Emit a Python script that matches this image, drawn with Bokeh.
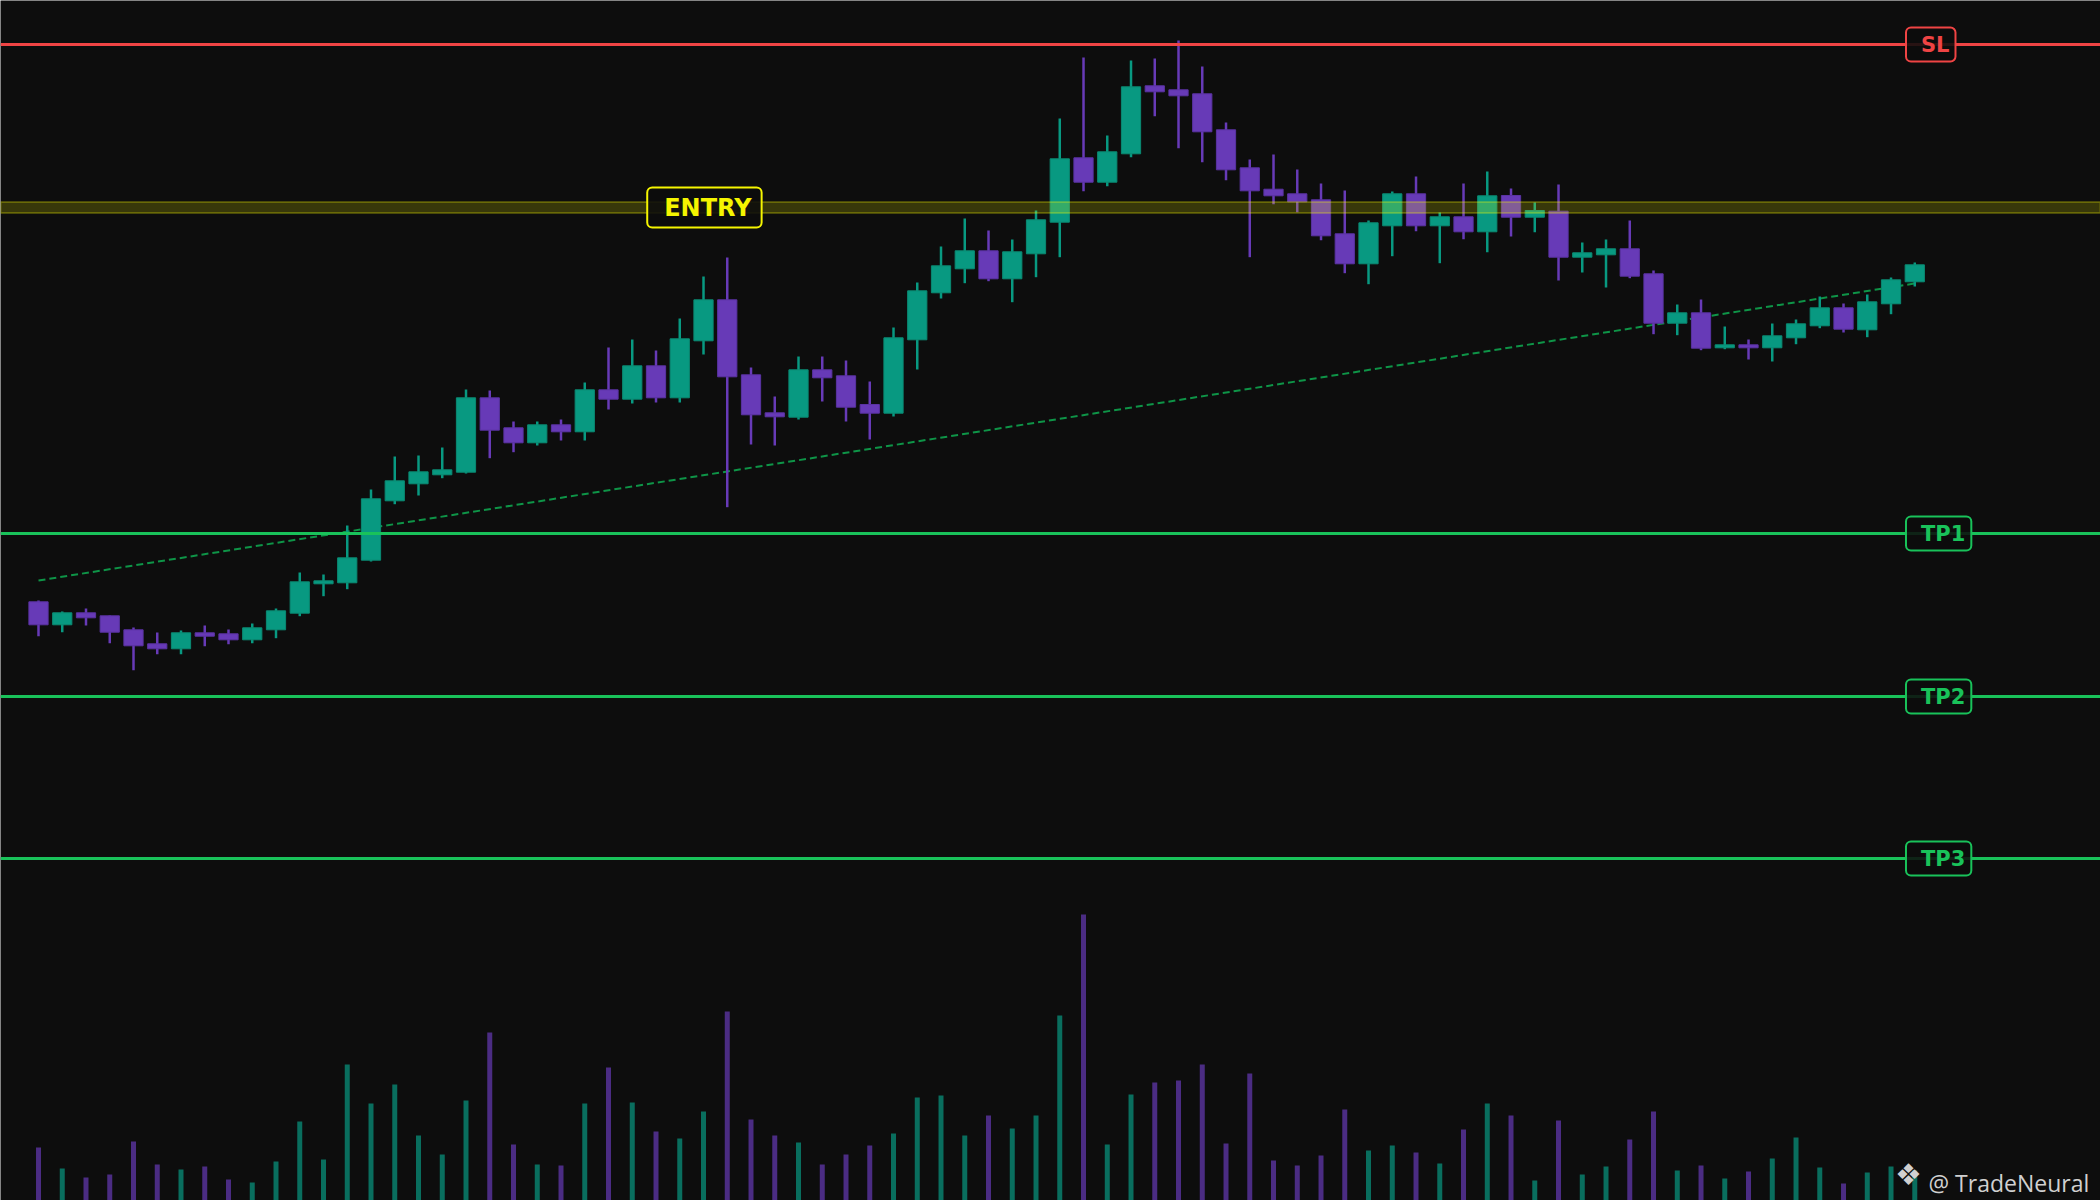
from bokeh.plotting import figure
from bokeh.models import Range1d, Span, Label, BoxAnnotation, ColumnDataSource
from bokeh.embed import file_html
from bokeh.resources import INLINE

# ---- data ----
opens = [210.57, 208.27, 209.47, 209.17, 207.77, 206.37, 205.87, 207.47, 207.37, 206.77,
         207.77, 209.43, 212.37, 212.47, 214.73, 220.67, 222.37, 223.27, 223.53, 230.97,
         227.97, 226.47, 228.27, 227.57, 231.77, 230.83, 234.17, 230.97, 236.67, 240.77,
         233.27, 229.47, 229.03, 233.77, 233.17, 230.30, 229.43, 236.77, 241.47, 243.87,
         245.67, 242.87, 245.37, 248.53, 254.97, 252.53, 255.37, 262.17, 261.77, 261.37,
         257.77, 253.97, 251.83, 251.37, 250.77, 247.37, 244.37, 248.17, 251.37, 248.17,
         249.07, 247.57, 251.20, 249.03, 249.63, 245.03, 245.27, 245.87, 243.37, 238.43,
         239.47, 235.97, 236.27, 235.97, 236.97, 238.17, 239.97, 237.77, 240.37, 242.57]
highs = [210.70, 209.60, 209.90, 209.20, 208.00, 207.50, 207.70, 208.20, 207.80, 208.40,
         209.90, 213.50, 213.30, 218.20, 221.80, 225.10, 225.20, 226.00, 231.80, 231.70,
         228.60, 228.60, 228.80, 232.50, 236.00, 236.80, 235.70, 238.90, 243.10, 245.00,
         234.00, 231.10, 235.10, 235.10, 234.70, 232.60, 238.00, 242.50, 246.10, 248.90,
         247.70, 246.80, 249.70, 258.90, 265.00, 257.20, 264.70, 264.90, 266.70, 264.10,
         258.50, 254.80, 255.30, 253.80, 252.40, 251.70, 248.70, 251.60, 253.10, 249.50,
         252.40, 253.60, 251.90, 250.50, 252.30, 246.50, 246.80, 248.70, 243.70, 240.30,
         240.80, 238.10, 236.80, 238.40, 238.80, 241.10, 240.40, 241.30, 243.00, 244.50]
lows = [207.13, 207.53, 208.20, 206.43, 203.73, 205.33, 205.33, 206.13, 206.33, 206.43,
        206.93, 209.13, 211.13, 211.83, 214.60, 220.33, 221.20, 222.93, 223.40, 224.93,
        225.53, 226.20, 226.70, 226.70, 229.80, 230.40, 230.50, 230.50, 235.30, 220.03,
        226.30, 226.20, 228.80, 230.60, 228.60, 226.80, 229.10, 233.80, 240.90, 242.43,
        242.63, 240.53, 243.03, 245.03, 251.63, 252.13, 255.03, 259.13, 255.93, 254.53,
        252.73, 245.03, 250.33, 249.53, 246.73, 243.43, 242.33, 245.13, 247.63, 244.43,
        246.83, 245.53, 247.10, 247.53, 242.70, 243.50, 242.00, 242.93, 237.33, 237.23,
        235.73, 235.83, 234.80, 234.60, 236.33, 237.93, 237.50, 237.03, 239.33, 242.10]
closes = [208.27, 209.47, 208.97, 207.53, 206.17, 205.87, 207.47, 207.13, 206.77, 207.97,
          209.67, 212.57, 212.67, 214.97, 220.87, 222.67, 223.57, 223.77, 230.97, 227.73,
          226.47, 228.27, 227.57, 231.77, 230.83, 234.17, 230.97, 236.87, 240.77, 233.07,
          229.27, 229.07, 233.77, 232.97, 230.03, 229.43, 236.97, 241.67, 244.17, 245.67,
          242.87, 245.57, 248.77, 254.87, 252.53, 255.57, 262.07, 261.57, 261.17, 257.57,
          253.77, 251.67, 251.17, 250.57, 247.17, 244.37, 248.47, 251.37, 248.17, 249.07,
          247.57, 251.17, 249.03, 249.70, 245.03, 245.47, 245.87, 243.13, 238.43, 239.47,
          235.93, 236.27, 235.97, 237.17, 238.37, 239.97, 237.83, 240.57, 242.77, 244.27]
volumes = [530, 320, 230, 260, 590, 360, 310, 340, 210, 180,
           390, 790, 410, 1360, 970, 1160, 650, 460, 1000, 1680,
           560, 360, 350, 970, 1330, 980, 690, 620, 890, 1890,
           810, 650, 580, 360, 460, 550, 670, 1030, 1050, 650,
           850, 720, 850, 1850, 2860, 560, 1060, 1180, 1200, 1360,
           570, 1270, 400, 350, 450, 910, 500, 550, 480, 370,
           710, 970, 850, 200, 800, 260, 340, 610, 890, 300,
           350, 220, 290, 420, 630, 330, 170, 280, 340, 300]

level_names = ["SL", "TP1", "TP2", "TP3"]
level_values = [266.3, 217.4, 201.1, 184.9]
entry_level = 250.0
entry_zone = [249.45, 250.55]
trend_x = [0, 79]
trend_y = [212.7, 242.4]

# ---- styles ----
BG = "#0d0d0d"
UP = "#089981"
DOWN = "#673ab7"
UP_EDGE = "#0a8a73"
DOWN_EDGE = "#5a33a3"
SL_COLOR = "#ef4444"
TP_COLOR = "#19c25a"
ENTRY_COLOR = "#f5f500"

idx = list(range(len(opens)))
is_up = [c >= o for o, c in zip(opens, closes)]
src = ColumnDataSource(dict(
    x=idx, high=highs, low=lows,
    top=[max(o, c) for o, c in zip(opens, closes)],
    bottom=[min(o, c) for o, c in zip(opens, closes)],
    color=[UP if u else DOWN for u in is_up],
    edge=[UP_EDGE if u else DOWN_EDGE for u in is_up],
    vol=volumes,
))

p = figure(width=2100, height=1200,
           x_range=Range1d(-1.6, 86.82), y_range=Range1d(150.7, 270.7),
           output_backend="svg", toolbar_location=None,
           x_axis_location=None, y_axis_location=None,
           background_fill_color=BG, border_fill_color=BG,
           outline_line_color=None, min_border=0)
p.grid.visible = False
p.extra_y_ranges = {"vol": Range1d(0, 12000)}

# volume
p.vbar(x="x", width=0.21, top="vol", bottom=0, source=src, y_range_name="vol",
       fill_color="color", fill_alpha=0.7, line_color=None)

# trend line
p.line(trend_x, trend_y, line_color="#0e9447", line_width=2, line_dash="7 4")

# candles
p.segment(x0="x", x1="x", y0="low", y1="high", source=src, line_color="color", line_width=2.5)
p.vbar(x="x", width=0.81, top="top", bottom="bottom", source=src,
       fill_color="color", line_color="edge", line_width=1)

# entry zone
p.add_layout(BoxAnnotation(bottom=entry_zone[0], top=entry_zone[1],
                           fill_color="#ffff00", fill_alpha=0.18,
                           line_color="#ffff00", line_alpha=0.25, line_width=2))

# levels
for name, val in zip(level_names, level_values):
    col = SL_COLOR if name == "SL" else TP_COLOR
    p.add_layout(Span(location=val, dimension="width", line_color=col, line_width=3))


def make_label(x, y, text, color, size, pad):
    kw = dict(x=x, y=y, text=text, text_align="left", text_baseline="middle",
              text_font="DejaVu Sans", text_font_style="bold", text_font_size=size,
              text_color=color, background_fill_color=BG, background_fill_alpha=0.88,
              border_line_color=color, border_line_width=2)
    try:
        lab = Label(padding=pad, border_radius=5, **kw)
    except Exception:
        lab = Label(**kw)
    return lab


for name, val in zip(level_names, level_values):
    col = SL_COLOR if name == "SL" else TP_COLOR
    p.add_layout(make_label(78.63, val, name, col, "21px",
                            dict(left=15, right=6, top=5, bottom=5)))

p.add_layout(make_label(25.63, entry_level, "ENTRY", ENTRY_COLOR, "24px",
                        dict(left=17, right=10, top=6, bottom=6)))

# watermark
p.add_layout(Label(x=1908, y=26.5, x_units="screen", y_units="screen", text="\u2756",
                   text_align="center", text_baseline="middle", text_font="DejaVu Sans",
                   text_font_size="30px", text_color="#d0d0d0"))
p.add_layout(Label(x=1928, y=17.3, x_units="screen", y_units="screen", text="@ TradeNeural",
                   text_align="left", text_baseline="alphabetic", text_font="Open Sans",
                   text_font_size="23px", text_color="#d0d0d0"))

open("out.html", "w").write(file_html(p, INLINE))
